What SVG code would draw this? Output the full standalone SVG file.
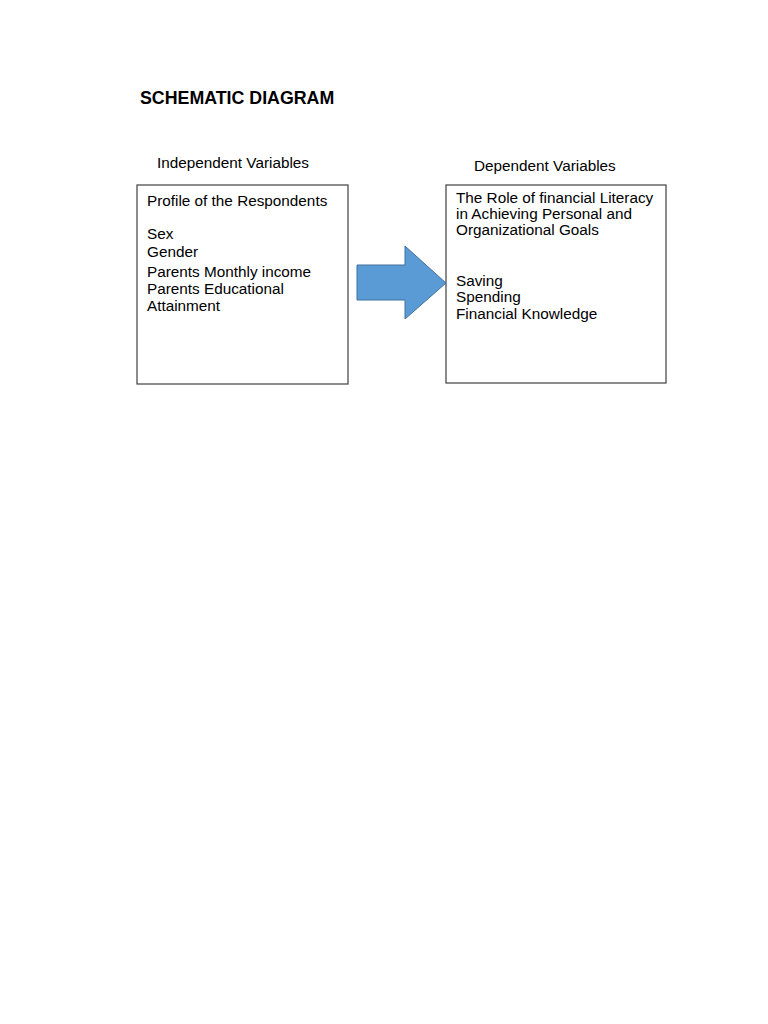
<svg xmlns="http://www.w3.org/2000/svg" width="768" height="1024" viewBox="0 0 768 1024">
<style>
text{font-family:"Liberation Sans",Arial,sans-serif;fill:#000}
.t{font-size:15.3px}
.h{font-size:17.8px;font-weight:bold}
.box{fill:#fff;stroke:#404040;stroke-width:1.2}
</style>
<rect width="768" height="1024" fill="#fff"/>
<text class="h" x="140" y="104">SCHEMATIC DIAGRAM</text>
<g id="independent">
<text class="t" x="157" y="168">Independent Variables</text>
<rect class="box" x="137" y="185" width="211" height="199"/>
<text class="t" x="147" y="206">Profile of the Respondents</text>
<text class="t" x="147" y="239">Sex</text>
<text class="t" x="147" y="257">Gender</text>
<text class="t" x="147" y="277">Parents Monthly income</text>
<text class="t" x="147" y="294">Parents Educational</text>
<text class="t" x="147" y="311">Attainment</text>
</g>
<g id="dependent">
<text class="t" x="474" y="171">Dependent Variables</text>
<rect class="box" x="446" y="185" width="220" height="198"/>
<text class="t" x="456" y="203">The Role of financial Literacy</text>
<text class="t" x="456" y="219">in Achieving Personal and</text>
<text class="t" x="456" y="235">Organizational Goals</text>
<text class="t" x="456" y="286">Saving</text>
<text class="t" x="456" y="302">Spending</text>
<text class="t" x="456" y="319">Financial Knowledge</text>
</g>
<g id="connectors">
<polygon points="357,265 405,265 405,246 446,283 405,319 405,300 357,300" fill="#5B9BD5" stroke="#41719C" stroke-width="1"/>
</g>
</svg>
